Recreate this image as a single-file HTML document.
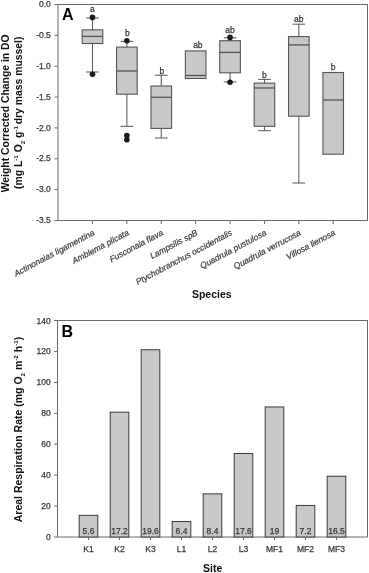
<!DOCTYPE html>
<html><head><meta charset="utf-8"><title>Figure</title>
<style>
html,body{margin:0;padding:0;background:#fff;}
svg{display:block;}
text{font-family:"Liberation Sans",Arial,sans-serif;}
.tk{font-size:8.5px;fill:#383838;stroke:#383838;stroke-width:0.25px;}
.sp{font-size:8.5px;fill:#383838;font-style:italic;stroke:#383838;stroke-width:0.2px;}
.ti{font-size:10.5px;font-weight:bold;fill:#111;}
.sup{font-size:6.2px;}
.pl{font-size:16px;font-weight:bold;fill:#000;}
</style></head>
<body>
<svg width="369" height="573" viewBox="0 0 369 573">
<rect width="369" height="573" fill="#fff"/>
<rect x="58.0" y="4.5" width="309.5" height="216.0" fill="none" stroke="#6a6a6a" stroke-width="1"/>
<line x1="54.5" y1="4.50" x2="58.0" y2="4.50" stroke="#6a6a6a" stroke-width="1"/>
<text x="50.8" y="7.10" class="tk" text-anchor="end">0.0</text>
<line x1="54.5" y1="35.36" x2="58.0" y2="35.36" stroke="#6a6a6a" stroke-width="1"/>
<text x="50.8" y="37.96" class="tk" text-anchor="end">-0.5</text>
<line x1="54.5" y1="66.21" x2="58.0" y2="66.21" stroke="#6a6a6a" stroke-width="1"/>
<text x="50.8" y="68.81" class="tk" text-anchor="end">-1.0</text>
<line x1="54.5" y1="97.07" x2="58.0" y2="97.07" stroke="#6a6a6a" stroke-width="1"/>
<text x="50.8" y="99.67" class="tk" text-anchor="end">-1.5</text>
<line x1="54.5" y1="127.93" x2="58.0" y2="127.93" stroke="#6a6a6a" stroke-width="1"/>
<text x="50.8" y="130.53" class="tk" text-anchor="end">-2.0</text>
<line x1="54.5" y1="158.79" x2="58.0" y2="158.79" stroke="#6a6a6a" stroke-width="1"/>
<text x="50.8" y="161.39" class="tk" text-anchor="end">-2.5</text>
<line x1="54.5" y1="189.64" x2="58.0" y2="189.64" stroke="#6a6a6a" stroke-width="1"/>
<text x="50.8" y="192.24" class="tk" text-anchor="end">-3.0</text>
<line x1="54.5" y1="220.50" x2="58.0" y2="220.50" stroke="#6a6a6a" stroke-width="1"/>
<text x="50.8" y="223.10" class="tk" text-anchor="end">-3.5</text>
<line x1="92.49" y1="220.5" x2="92.49" y2="224.0" stroke="#6a6a6a" stroke-width="1"/>
<text class="sp" text-anchor="end" transform="translate(95.19,234.5) rotate(-28)">Actinonaias ligamentina</text>
<line x1="126.88" y1="220.5" x2="126.88" y2="224.0" stroke="#6a6a6a" stroke-width="1"/>
<text class="sp" text-anchor="end" transform="translate(129.58,234.5) rotate(-28)">Amblema plicata</text>
<line x1="161.27" y1="220.5" x2="161.27" y2="224.0" stroke="#6a6a6a" stroke-width="1"/>
<text class="sp" text-anchor="end" transform="translate(163.97,234.5) rotate(-28)">Fusconaia flava</text>
<line x1="195.66" y1="220.5" x2="195.66" y2="224.0" stroke="#6a6a6a" stroke-width="1"/>
<text class="sp" text-anchor="end" transform="translate(198.36,234.5) rotate(-28)">Lampsilis spB</text>
<line x1="230.05" y1="220.5" x2="230.05" y2="224.0" stroke="#6a6a6a" stroke-width="1"/>
<text class="sp" text-anchor="end" transform="translate(232.75,234.5) rotate(-28)">Ptychobranchus occidentalis</text>
<line x1="264.44" y1="220.5" x2="264.44" y2="224.0" stroke="#6a6a6a" stroke-width="1"/>
<text class="sp" text-anchor="end" transform="translate(267.14,234.5) rotate(-28)">Quadrula pustulosa</text>
<line x1="298.83" y1="220.5" x2="298.83" y2="224.0" stroke="#6a6a6a" stroke-width="1"/>
<text class="sp" text-anchor="end" transform="translate(301.53,234.5) rotate(-28)">Quadrula verrucosa</text>
<line x1="333.22" y1="220.5" x2="333.22" y2="224.0" stroke="#6a6a6a" stroke-width="1"/>
<text class="sp" text-anchor="end" transform="translate(335.92,234.5) rotate(-28)">Villosa lienosa</text>
<line x1="92.49" y1="18.0" x2="92.49" y2="29.9" stroke="#555555" stroke-width="1"/>
<line x1="86.19" y1="18.0" x2="98.79" y2="18.0" stroke="#555555" stroke-width="1"/>
<line x1="92.49" y1="43.5" x2="92.49" y2="72.0" stroke="#555555" stroke-width="1"/>
<line x1="86.19" y1="72.0" x2="98.79" y2="72.0" stroke="#555555" stroke-width="1"/>
<rect x="82.19" y="29.9" width="20.6" height="13.60" fill="#c8c8c8" stroke="#555555" stroke-width="1.1"/>
<line x1="82.19" y1="36.4" x2="102.79" y2="36.4" stroke="#555555" stroke-width="1.3"/>
<circle cx="92.49" cy="17.4" r="2.8" fill="#1a1a1a"/>
<circle cx="92.49" cy="74.2" r="2.8" fill="#1a1a1a"/>
<text x="92.49" y="11.8" class="tk" text-anchor="middle">a</text>
<line x1="126.88" y1="41.4" x2="126.88" y2="47.1" stroke="#555555" stroke-width="1"/>
<line x1="120.58" y1="41.4" x2="133.18" y2="41.4" stroke="#555555" stroke-width="1"/>
<line x1="126.88" y1="94.2" x2="126.88" y2="126.3" stroke="#555555" stroke-width="1"/>
<line x1="120.58" y1="126.3" x2="133.18" y2="126.3" stroke="#555555" stroke-width="1"/>
<rect x="116.58" y="47.1" width="20.6" height="47.10" fill="#c8c8c8" stroke="#555555" stroke-width="1.1"/>
<line x1="116.58" y1="71.0" x2="137.18" y2="71.0" stroke="#555555" stroke-width="1.3"/>
<circle cx="126.88" cy="40.8" r="2.8" fill="#1a1a1a"/>
<circle cx="126.88" cy="135.6" r="2.8" fill="#1a1a1a"/>
<circle cx="126.88" cy="139.8" r="2.8" fill="#1a1a1a"/>
<text x="127.38" y="35.7" class="tk" text-anchor="middle">b</text>
<line x1="161.27" y1="75.2" x2="161.27" y2="86.0" stroke="#555555" stroke-width="1"/>
<line x1="154.97" y1="75.2" x2="167.57" y2="75.2" stroke="#555555" stroke-width="1"/>
<line x1="161.27" y1="128.4" x2="161.27" y2="138.0" stroke="#555555" stroke-width="1"/>
<line x1="154.97" y1="138.0" x2="167.57" y2="138.0" stroke="#555555" stroke-width="1"/>
<rect x="150.97" y="86.0" width="20.6" height="42.40" fill="#c8c8c8" stroke="#555555" stroke-width="1.1"/>
<line x1="150.97" y1="97.3" x2="171.57" y2="97.3" stroke="#555555" stroke-width="1.3"/>
<text x="161.77" y="73.7" class="tk" text-anchor="middle">b</text>
<rect x="185.36" y="50.9" width="20.6" height="27.60" fill="#c8c8c8" stroke="#555555" stroke-width="1.1"/>
<line x1="185.36" y1="75.5" x2="205.96" y2="75.5" stroke="#555555" stroke-width="1.3"/>
<text x="197.86" y="48.0" class="tk" text-anchor="middle">ab</text>
<line x1="230.05" y1="37.8" x2="230.05" y2="40.7" stroke="#555555" stroke-width="1"/>
<line x1="223.75" y1="37.8" x2="236.35" y2="37.8" stroke="#555555" stroke-width="1"/>
<line x1="230.05" y1="72.8" x2="230.05" y2="81.9" stroke="#555555" stroke-width="1"/>
<line x1="223.75" y1="81.9" x2="236.35" y2="81.9" stroke="#555555" stroke-width="1"/>
<rect x="219.75" y="40.7" width="20.6" height="32.10" fill="#c8c8c8" stroke="#555555" stroke-width="1.1"/>
<line x1="219.75" y1="52.4" x2="240.35" y2="52.4" stroke="#555555" stroke-width="1.3"/>
<circle cx="230.05" cy="37.4" r="2.8" fill="#1a1a1a"/>
<circle cx="230.05" cy="82.2" r="2.8" fill="#1a1a1a"/>
<text x="230.05" y="32.9" class="tk" text-anchor="middle">ab</text>
<line x1="264.44" y1="79.4" x2="264.44" y2="83.1" stroke="#555555" stroke-width="1"/>
<line x1="258.14" y1="79.4" x2="270.74" y2="79.4" stroke="#555555" stroke-width="1"/>
<line x1="264.44" y1="126.3" x2="264.44" y2="130.7" stroke="#555555" stroke-width="1"/>
<line x1="258.14" y1="130.7" x2="270.74" y2="130.7" stroke="#555555" stroke-width="1"/>
<rect x="254.14" y="83.1" width="20.6" height="43.20" fill="#c8c8c8" stroke="#555555" stroke-width="1.1"/>
<line x1="254.14" y1="88.0" x2="274.74" y2="88.0" stroke="#555555" stroke-width="1.3"/>
<text x="264.44" y="78.2" class="tk" text-anchor="middle">b</text>
<line x1="298.83" y1="24.2" x2="298.83" y2="36.6" stroke="#555555" stroke-width="1"/>
<line x1="292.53" y1="24.2" x2="305.13" y2="24.2" stroke="#555555" stroke-width="1"/>
<line x1="298.83" y1="116.2" x2="298.83" y2="183.0" stroke="#555555" stroke-width="1"/>
<line x1="292.53" y1="183.0" x2="305.13" y2="183.0" stroke="#555555" stroke-width="1"/>
<rect x="288.53" y="36.6" width="20.6" height="79.60" fill="#c8c8c8" stroke="#555555" stroke-width="1.1"/>
<line x1="288.53" y1="44.9" x2="309.13" y2="44.9" stroke="#555555" stroke-width="1.3"/>
<text x="298.83" y="22.0" class="tk" text-anchor="middle">ab</text>
<rect x="322.92" y="72.5" width="20.6" height="81.70" fill="#c8c8c8" stroke="#555555" stroke-width="1.1"/>
<line x1="322.92" y1="100.0" x2="343.52" y2="100.0" stroke="#555555" stroke-width="1.3"/>
<text x="333.22" y="70.2" class="tk" text-anchor="middle">b</text>
<text x="62" y="19.6" class="pl">A</text>
<text class="ti" text-anchor="middle" style="font-size:10.4px" transform="translate(9.2,113.30) rotate(-90)">Weight Corrected Change in DO</text>
<text class="ti" text-anchor="middle" style="font-size:10.4px" transform="translate(21.9,112.80) rotate(-90)">(mg L<tspan class="sup" dy="-4.3">-1</tspan><tspan dy="4.3"> O</tspan><tspan class="sup" dy="3.0">2</tspan><tspan dy="-3.0"> g</tspan><tspan class="sup" dy="-4.3">-1</tspan><tspan dy="4.3" dx="-1.2"> dry mass mussel)</tspan></text>
<text x="211.75" y="297.6" class="ti" text-anchor="middle">Species</text>
<rect x="57.5" y="320.5" width="310.0" height="216.5" fill="none" stroke="#6a6a6a" stroke-width="1"/>
<line x1="54.0" y1="537.00" x2="57.5" y2="537.00" stroke="#6a6a6a" stroke-width="1"/>
<text x="50.7" y="540.00" class="tk" text-anchor="end">0</text>
<line x1="54.0" y1="506.07" x2="57.5" y2="506.07" stroke="#6a6a6a" stroke-width="1"/>
<text x="50.7" y="509.07" class="tk" text-anchor="end">20</text>
<line x1="54.0" y1="475.14" x2="57.5" y2="475.14" stroke="#6a6a6a" stroke-width="1"/>
<text x="50.7" y="478.14" class="tk" text-anchor="end">40</text>
<line x1="54.0" y1="444.21" x2="57.5" y2="444.21" stroke="#6a6a6a" stroke-width="1"/>
<text x="50.7" y="447.21" class="tk" text-anchor="end">60</text>
<line x1="54.0" y1="413.29" x2="57.5" y2="413.29" stroke="#6a6a6a" stroke-width="1"/>
<text x="50.7" y="416.29" class="tk" text-anchor="end">80</text>
<line x1="54.0" y1="382.36" x2="57.5" y2="382.36" stroke="#6a6a6a" stroke-width="1"/>
<text x="50.7" y="385.36" class="tk" text-anchor="end">100</text>
<line x1="54.0" y1="351.43" x2="57.5" y2="351.43" stroke="#6a6a6a" stroke-width="1"/>
<text x="50.7" y="354.43" class="tk" text-anchor="end">120</text>
<line x1="54.0" y1="320.50" x2="57.5" y2="320.50" stroke="#6a6a6a" stroke-width="1"/>
<text x="50.7" y="323.50" class="tk" text-anchor="end">140</text>
<rect x="79.20" y="515.35" width="18.6" height="21.65" fill="#c8c8c8" stroke="#3a3a3a" stroke-width="1"/>
<text x="88.50" y="534.2" class="tk" text-anchor="middle">5.6</text>
<line x1="88.50" y1="537.0" x2="88.50" y2="540.0" stroke="#6a6a6a" stroke-width="1"/>
<text x="88.50" y="552.3" class="tk" text-anchor="middle">K1</text>
<rect x="110.20" y="412.20" width="18.6" height="124.80" fill="#c8c8c8" stroke="#3a3a3a" stroke-width="1"/>
<text x="119.50" y="534.2" class="tk" text-anchor="middle">17.2</text>
<line x1="119.50" y1="537.0" x2="119.50" y2="540.0" stroke="#6a6a6a" stroke-width="1"/>
<text x="119.50" y="552.3" class="tk" text-anchor="middle">K2</text>
<rect x="141.20" y="349.73" width="18.6" height="187.27" fill="#c8c8c8" stroke="#3a3a3a" stroke-width="1"/>
<text x="150.50" y="534.2" class="tk" text-anchor="middle">19.6</text>
<line x1="150.50" y1="537.0" x2="150.50" y2="540.0" stroke="#6a6a6a" stroke-width="1"/>
<text x="150.50" y="552.3" class="tk" text-anchor="middle">K3</text>
<rect x="172.20" y="521.54" width="18.6" height="15.46" fill="#c8c8c8" stroke="#3a3a3a" stroke-width="1"/>
<text x="181.50" y="534.2" class="tk" text-anchor="middle">6.4</text>
<line x1="181.50" y1="537.0" x2="181.50" y2="540.0" stroke="#6a6a6a" stroke-width="1"/>
<text x="181.50" y="552.3" class="tk" text-anchor="middle">L1</text>
<rect x="203.20" y="493.85" width="18.6" height="43.15" fill="#c8c8c8" stroke="#3a3a3a" stroke-width="1"/>
<text x="212.50" y="534.2" class="tk" text-anchor="middle">8.4</text>
<line x1="212.50" y1="537.0" x2="212.50" y2="540.0" stroke="#6a6a6a" stroke-width="1"/>
<text x="212.50" y="552.3" class="tk" text-anchor="middle">L2</text>
<rect x="234.20" y="453.49" width="18.6" height="83.51" fill="#c8c8c8" stroke="#3a3a3a" stroke-width="1"/>
<text x="243.50" y="534.2" class="tk" text-anchor="middle">17.6</text>
<line x1="243.50" y1="537.0" x2="243.50" y2="540.0" stroke="#6a6a6a" stroke-width="1"/>
<text x="243.50" y="552.3" class="tk" text-anchor="middle">L3</text>
<rect x="265.20" y="406.95" width="18.6" height="130.05" fill="#c8c8c8" stroke="#3a3a3a" stroke-width="1"/>
<text x="274.50" y="534.2" class="tk" text-anchor="middle">19</text>
<line x1="274.50" y1="537.0" x2="274.50" y2="540.0" stroke="#6a6a6a" stroke-width="1"/>
<text x="274.50" y="552.3" class="tk" text-anchor="middle">MF1</text>
<rect x="296.20" y="505.45" width="18.6" height="31.55" fill="#c8c8c8" stroke="#3a3a3a" stroke-width="1"/>
<text x="305.50" y="534.2" class="tk" text-anchor="middle">7.2</text>
<line x1="305.50" y1="537.0" x2="305.50" y2="540.0" stroke="#6a6a6a" stroke-width="1"/>
<text x="305.50" y="552.3" class="tk" text-anchor="middle">MF2</text>
<rect x="327.20" y="476.23" width="18.6" height="60.77" fill="#c8c8c8" stroke="#3a3a3a" stroke-width="1"/>
<text x="336.50" y="534.2" class="tk" text-anchor="middle">16.5</text>
<line x1="336.50" y1="537.0" x2="336.50" y2="540.0" stroke="#6a6a6a" stroke-width="1"/>
<text x="336.50" y="552.3" class="tk" text-anchor="middle">MF3</text>
<text x="61.5" y="337.2" class="pl">B</text>
<text class="ti" text-anchor="middle" transform="translate(22.3,429.55) rotate(-90)">Areal Respiration Rate (mg O<tspan class="sup" dy="3.0">2</tspan><tspan dy="-3.0"> m</tspan><tspan class="sup" dy="-4.3">-2</tspan><tspan dy="4.3"> h</tspan><tspan class="sup" dy="-4.3">-1</tspan><tspan dy="4.3">)</tspan></text>
<text x="212.75" y="572.3" class="ti" text-anchor="middle">Site</text>
</svg>
</body></html>
